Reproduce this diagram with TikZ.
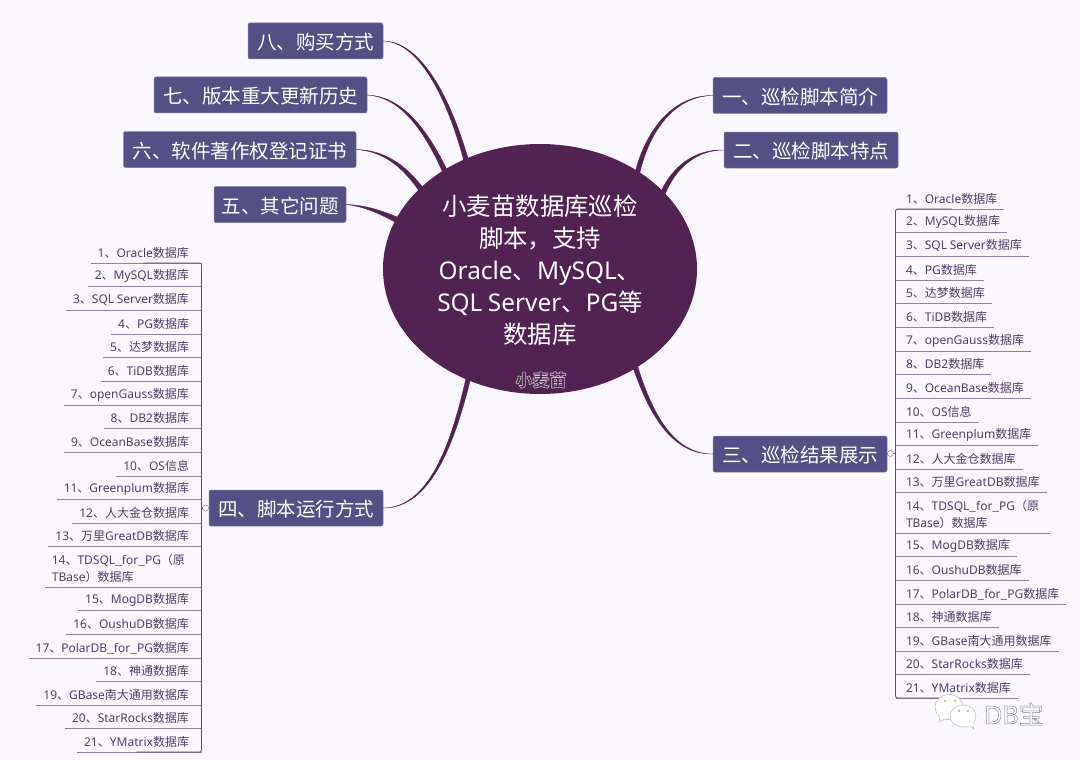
\documentclass[tikz,border=0pt]{standalone}
\usepackage{fontspec}
\setmainfont{Noto Sans CJK SC}
\newfontfamily\latinface{Noto Sans}
\usetikzlibrary{shapes.geometric,calc}
% Latin letters and digits come from Noto Sans, the rest from the CJK face
\newXeTeXintercharclass\latinclass
\makeatletter
\@tempcnta=`0 \loop\ifnum\@tempcnta<`:\XeTeXcharclass\@tempcnta=\latinclass\advance\@tempcnta by 1\repeat
\@tempcnta=`A \loop\ifnum\@tempcnta<`[\XeTeXcharclass\@tempcnta=\latinclass\advance\@tempcnta by 1\repeat
\@tempcnta=`a \loop\ifnum\@tempcnta<`\{\XeTeXcharclass\@tempcnta=\latinclass\advance\@tempcnta by 1\repeat
\makeatother
\XeTeXinterchartoks 0 \latinclass = {\latinface}
\XeTeXinterchartoks 4095 \latinclass = {\latinface}
\XeTeXinterchartoks \latinclass 0 = {\normalfont}
\XeTeXinterchartoks \latinclass 4095 = {\normalfont}
\XeTeXinterchartokenstate=1
\definecolor{pagebg}{HTML}{FBF7FE}
\definecolor{rootplum}{HTML}{522352}
\definecolor{branchblue}{HTML}{544F85}
\definecolor{leafink}{HTML}{4F3F68}
\definecolor{leafrule}{HTML}{947F9F}
\definecolor{spineink}{HTML}{5F4A70}
\tikzset{
  rootoval/.style={ellipse, fill=rootplum, text=white, minimum width=314pt, minimum height=250pt,
    inner sep=0pt, outer sep=0pt, align=center, font=\fontsize{24.4}{32}\selectfont},
  branchbox/.style={fill=branchblue, draw=branchblue!75!white, line width=.5pt, text=white, rounded corners=2pt,
    minimum height=36pt, inner xsep=9pt, inner ysep=0pt, outer sep=0pt, text height=19pt, text depth=1.8pt,
    font=\fontsize{19.5}{24}\selectfont},
  branchlink/.style={fill=rootplum, draw=rootplum, line width=.3pt},
  leaflabel/.style={text=leafink, inner xsep=7pt, inner ysep=5pt, outer sep=0pt, minimum height=22pt,
    align=left, font=\fontsize{12}{17}\selectfont},
  leafrule/.style={draw=leafrule, line width=.6pt},
  spine/.style={draw=spineink, line width=.8pt, rounded corners=2pt},
  junction/.style={circle, draw=black!45, fill=pagebg, line width=.5pt, minimum size=6pt, inner sep=0pt, outer sep=0pt},
  bubble/.style={fill=white, draw=black!28, line width=.5pt}
}
% tapered link: box side, two control points, two angles on the oval
\newcommand{\taperlink}[5]{\fill[branchlink] (#1) .. controls #2 and #3 .. (root.#4) -- (root.#5)
  .. controls ($#3+0.67*(root.#5)-0.67*(root.#4)$) and ($#2+0.33*(root.#5)-0.33*(root.#4)$) .. (#1) -- cycle;}
\newcommand{\hollowtext}[3]{\special{pdf:code 2 Tr #1 w #2 G}#3\special{pdf:code 0 Tr}}
\begin{document}
\begin{tikzpicture}[x=1pt,y=-1pt]
  \useasboundingbox (0,0) rectangle (1080,760);
  \fill[pagebg] (0,0) rectangle (1080,760);

  % Branch boxes
  \node[branchbox, anchor=east] (bviii) at (383,41) {八、购买方式};
  \node[branchbox, anchor=east] (bvii) at (367,95) {七、版本重大更新历史};
  \node[branchbox, anchor=east] (bvi) at (356,149.5) {六、软件著作权登记证书};
  \node[branchbox, anchor=east, inner xsep=7.5pt] (bv) at (346,204.5) {五、其它问题};
  \node[branchbox, anchor=east] (biv) at (383,508) {四、脚本运行方式};
  \node[branchbox, anchor=west] (bi) at (713,95.5) {一、巡检脚本简介};
  \node[branchbox, anchor=west] (bii) at (724,150) {二、巡检脚本特点};
  \node[branchbox, anchor=west] (biii) at (713,454) {三、巡检结果展示};

  % Root oval
  \node[rootoval] (root) at (540,269) {\rule{0pt}{23pt}小麦苗数据库巡检\\脚本，支持\\Oracle、MySQL、\\SQL Server、PG等\\数据库};

  % Tapered links
  \taperlink{bviii.east}{(418,41)}{(448,90)}{123.2}{125.2}
  \taperlink{bvii.east}{(400,96)}{(425,125)}{133.1}{135.1}
  \taperlink{bvi.east}{(385,150)}{(405,165)}{145.4}{147.4}
  \taperlink{bv.east}{(365,205)}{(380,210)}{160.3}{162.3}
  \taperlink{biv.east}{(430,508)}{(452,440)}{236.5}{238.5}
  \taperlink{bi.west}{(675,96)}{(650,130)}{44}{46}
  \taperlink{bii.west}{(695,150)}{(675,170)}{31.9}{33.9}
  \taperlink{biii.west}{(670,455)}{(648,410)}{-47.8}{-45.8}

  % Leaf lists on both sides
  \foreach \y/\txt [count=\i] in {209/{1、Oracle数据库}, 232/{2、MySQL数据库}, 256/{3、SQL Server数据库},
      280/{4、PG数据库}, 303/{5、达梦数据库}, 327/{6、TiDB数据库}, 351/{7、openGauss数据库},
      374/{8、DB2数据库}, 398/{9、OceanBase数据库}, 422/{10、OS信息}, 445/{11、Greenplum数据库},
      469/{12、人大金仓数据库}, 492/{13、万里GreatDB数据库}, 533/{14、TDSQL\_for\_PG（原\kern4pt\\TBase）数据库},
      556/{15、MogDB数据库}, 580/{16、OushuDB数据库}, 604/{17、PolarDB\_for\_PG数据库},
      627/{18、神通数据库}, 651/{19、GBase南大通用数据库}, 674/{20、StarRocks数据库}, 698/{21、YMatrix数据库}} {
    \node[leaflabel, anchor=south west] (r\i) at (899,\y+1) {\txt};
    \node[leaflabel, anchor=south east] (l\i) at (196,\y+55) {\txt};
    \coordinate (rs\i) at (895.5,\y);
    \coordinate (ls\i) at (201.5,\y+54);
    \draw[leafrule] (rs\i) -- (rs\i -| r\i.east);
    \draw[leafrule] (ls\i) -- (ls\i -| l\i.west);
  }

  % Spines and their junctions
  \draw[spine] (rs1 -| r1.south) -- (rs1) -- (rs21) -- (rs21 -| r21.south);
  \draw[spine] (ls1 -| l1.south) -- (ls1) -- (ls21) -- (ls21 -| l21.south);
  \node[junction] (jiii) at (890.5,453.5) {};
  \node[junction] (jiv) at (205.5,508) {};
  \draw[spine] (biii.east) -- (jiii) -- (895.5,453.5);
  \draw[spine] (biv.west) -- (jiv) -- (201.5,508);

  % Watermarks
  \node[text=rootplum, font=\fontsize{17}{17}\selectfont\bfseries, inner sep=0pt] (rootmark) at (541,380) {\hollowtext{0.6}{0.8}{小麦苗}};
  \draw[bubble] (949,707) ellipse (14 and 12.5);
  \draw[bubble] (940,716) -- (939,722) -- (947,718);
  \draw[bubble] (963,716) ellipse (13 and 11);
  \draw[bubble] (969,725) -- (974,729) -- (972,723);
  \fill[white] (942,712) -- (948,718) -- (940,719) -- cycle;
  \fill[white] (967,725) -- (973,727) -- (973,721) -- cycle;
  \foreach \ex/\ey in {945/701, 955/701, 959/711, 968/711}
    \fill[black!35] (\ex,\ey) circle (1.1);
  \node[text=white, font=\fontsize{25}{25}\selectfont, inner sep=0pt] (dbmark) at (1014,714) {\hollowtext{0.5}{0.55}{DB宝}};
\end{tikzpicture}
\end{document}
